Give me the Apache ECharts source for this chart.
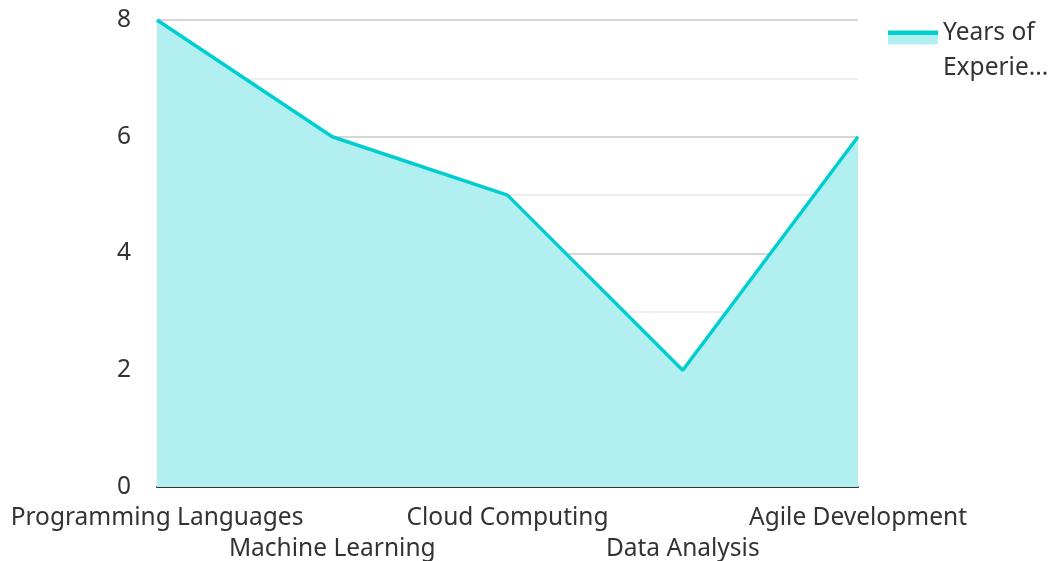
<!DOCTYPE html>
<html>
<head>
<meta charset="utf-8">
<script src="https://cdn.jsdelivr.net/npm/echarts@6/dist/echarts.min.js"></script>
<style>
  html, body { margin: 0; padding: 0; background: #fff; }
  #chart { width: 1050px; height: 561px; }
</style>
</head>
<body>
<div id="chart"></div>
<script>
const categories = ['Programming Languages', 'Machine Learning', 'Cloud Computing', 'Data Analysis', 'Agile Development'];
const years = [8, 6, 5, 2, 6];
const seriesName = 'Years of Experience';

const chart = echarts.init(document.getElementById('chart'));

const lineColor = '#00ced1';
const areaColor = '#b2eff0';
const fontSize = 24.5;

const option = {
  textStyle: { fontFamily: 'Noto Sans' },
  grid: { left: 157, right: 192, top: 20, bottom: 74, outerBoundsMode: 'none' },
  legend: {
    left: 883,
    top: 11,
    itemWidth: 50,
    itemHeight: 41,
    itemGap: 10,
    // swatch sits in the upper part of the item, an empty point keeps the height
    icon: 'path://M0,0H50V14H0Z M0,41L0.01,41Z',
    data: [seriesName],
    itemStyle: {
      borderWidth: 0,
      color: new echarts.graphic.LinearGradient(0, 0, 0, 1, [
        { offset: 0, color: lineColor },
        { offset: 0.1, color: lineColor },
        { offset: 0.1, color: areaColor },
        { offset: 1, color: areaColor }
      ])
    },
    formatter: (name) => name.replace(/^(\S+ \S+) /, '$1\n'),
    textStyle: {
      fontSize: fontSize,
      color: '#333',
      width: 116,
      overflow: 'truncate',
      lineHeight: 35
    }
  },
  xAxis: {
    type: 'category',
    data: categories,
    boundaryGap: false,
    axisLine: { lineStyle: { color: '#333', width: 2 } },
    axisTick: { show: false },
    axisLabel: {
      interval: 0,
      fontSize: fontSize,
      color: '#333',
      margin: 16,
      lineHeight: 31,
      formatter: (v, i) => (i % 2 ? '\n' + v : v)
    }
  },
  yAxis: {
    type: 'value',
    min: 0,
    max: 8,
    interval: 2,
    axisLine: { show: false },
    axisTick: { show: false },
    axisLabel: { fontSize: fontSize, color: '#333', margin: 26, padding: [4, 0, 0, 0] },
    splitLine: { lineStyle: { color: '#c8c8c8', width: 1.5 } },
    minorTick: { show: false, splitNumber: 2 },
    minorSplitLine: { show: true, lineStyle: { color: '#e8e8e8', width: 1.5 } }
  },
  series: [{
    name: seriesName,
    type: 'line',
    data: years,
    showSymbol: false,
    lineStyle: { color: lineColor, width: 3.5 },
    itemStyle: { color: lineColor },
    areaStyle: { color: areaColor, opacity: 1 }
  }]
};

chart.setOption(option);
</script>
</body>
</html>
